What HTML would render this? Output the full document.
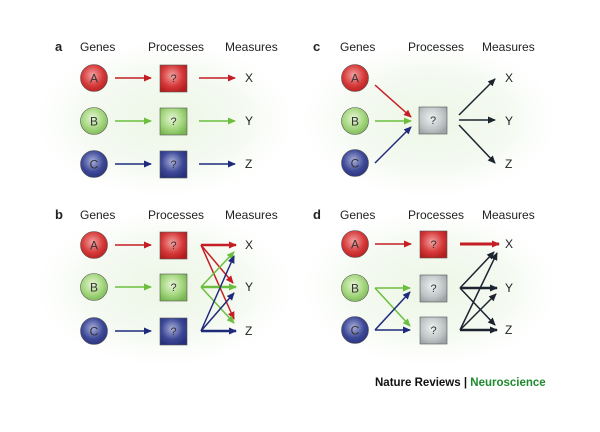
<!DOCTYPE html>
<html><head><meta charset="utf-8"><style>
html,body{margin:0;padding:0;background:#fff}
svg{display:block}
text{font-family:"Liberation Sans",Arial,sans-serif}
</style></head><body>
<svg width="600" height="432" viewBox="0 0 600 432" xmlns="http://www.w3.org/2000/svg">
<defs>
<radialGradient id="glow" cx="50%" cy="50%" r="50%">
<stop offset="0" stop-color="#edf6e6"/><stop offset="0.6" stop-color="#f5faf2"/><stop offset="1" stop-color="#fff" stop-opacity="0"/>
</radialGradient>
<radialGradient id="gr" cx="45%" cy="40%" r="65%"><stop offset="0" stop-color="#f4a3a3"/><stop offset="0.6" stop-color="#d63a3a"/><stop offset="1" stop-color="#b51d1d"/></radialGradient>
<radialGradient id="gg" cx="45%" cy="40%" r="65%"><stop offset="0" stop-color="#e6f6d6"/><stop offset="0.6" stop-color="#a4d67e"/><stop offset="1" stop-color="#79b653"/></radialGradient>
<radialGradient id="gb" cx="45%" cy="40%" r="65%"><stop offset="0" stop-color="#a9afd9"/><stop offset="0.6" stop-color="#3e4a98"/><stop offset="1" stop-color="#27307a"/></radialGradient>
<radialGradient id="gy" cx="45%" cy="40%" r="65%"><stop offset="0" stop-color="#eef0f0"/><stop offset="0.7" stop-color="#bcc2c4"/><stop offset="1" stop-color="#9ea5a8"/></radialGradient>
<marker id="mr" markerWidth="8" markerHeight="8" refX="7" refY="4" orient="auto" markerUnits="userSpaceOnUse"><path d="M0,0.5 L8,4 L0,7.5 Z" fill="#c41e24"/></marker>
<marker id="mg" markerWidth="8" markerHeight="8" refX="7" refY="4" orient="auto" markerUnits="userSpaceOnUse"><path d="M0,0.5 L8,4 L0,7.5 Z" fill="#6cbf3e"/></marker>
<marker id="mb" markerWidth="8" markerHeight="8" refX="7" refY="4" orient="auto" markerUnits="userSpaceOnUse"><path d="M0,0.5 L8,4 L0,7.5 Z" fill="#1f2a7c"/></marker>
<marker id="mk" markerWidth="8" markerHeight="8" refX="7" refY="4" orient="auto" markerUnits="userSpaceOnUse"><path d="M0,0.5 L8,4 L0,7.5 Z" fill="#1c2430"/></marker>
</defs>
<ellipse cx="165" cy="120" rx="140" ry="85" fill="url(#glow)"/>
<ellipse cx="430" cy="120" rx="140" ry="85" fill="url(#glow)"/>
<ellipse cx="165" cy="288" rx="140" ry="85" fill="url(#glow)"/>
<ellipse cx="430" cy="288" rx="140" ry="85" fill="url(#glow)"/>

<g font-size="12" fill="#222">
<text x="55" y="51" font-weight="bold" font-size="13">a</text>
<text x="80" y="51">Genes</text><text x="148" y="51">Processes</text><text x="225" y="51">Measures</text>
<text x="313" y="51" font-weight="bold" font-size="13">c</text>
<text x="340" y="51">Genes</text><text x="408" y="51">Processes</text><text x="482" y="51">Measures</text>
<text x="55" y="219" font-weight="bold" font-size="13">b</text>
<text x="80" y="219">Genes</text><text x="148" y="219">Processes</text><text x="225" y="219">Measures</text>
<text x="313" y="219" font-weight="bold" font-size="13">d</text>
<text x="340" y="219">Genes</text><text x="408" y="219">Processes</text><text x="482" y="219">Measures</text>
</g>

<!-- panel a -->
<g stroke-width="1.5" fill="none">
<line x1="115" y1="78" x2="151" y2="78" stroke="#c41e24" marker-end="url(#mr)"/>
<line x1="199" y1="78" x2="235" y2="78" stroke="#c41e24" marker-end="url(#mr)"/>
<line x1="115" y1="121" x2="151" y2="121" stroke="#6cbf3e" marker-end="url(#mg)"/>
<line x1="199" y1="121" x2="235" y2="121" stroke="#6cbf3e" marker-end="url(#mg)"/>
<line x1="115" y1="164" x2="151" y2="164" stroke="#1f2a7c" marker-end="url(#mb)"/>
<line x1="199" y1="164" x2="235" y2="164" stroke="#1f2a7c" marker-end="url(#mb)"/>
</g>
<g stroke="#555" stroke-width="0.6">
<circle cx="94" cy="78" r="13.5" fill="url(#gr)"/><circle cx="94" cy="121" r="13.5" fill="url(#gg)"/><circle cx="94" cy="164" r="13.5" fill="url(#gb)"/>
<rect x="160" y="65" width="27" height="27" fill="url(#gr)"/><rect x="160" y="108" width="27" height="27" fill="url(#gg)"/><rect x="160" y="151" width="27" height="27" fill="url(#gb)"/>
</g>

<!-- panel b -->
<g stroke-width="1.5" fill="none">
<line x1="115" y1="245" x2="151" y2="245" stroke="#c41e24" marker-end="url(#mr)"/>
<line x1="115" y1="287" x2="151" y2="287" stroke="#6cbf3e" marker-end="url(#mg)"/>
<line x1="115" y1="331" x2="151" y2="331" stroke="#1f2a7c" marker-end="url(#mb)"/>
<line x1="201" y1="245" x2="236" y2="245" stroke="#c41e24" stroke-width="2.5" marker-end="url(#mr)"/>
<line x1="201" y1="245" x2="233" y2="283" stroke="#c41e24" marker-end="url(#mr)"/>
<line x1="201" y1="245" x2="234" y2="319" stroke="#c41e24" marker-end="url(#mr)"/>
<line x1="201" y1="287" x2="234" y2="252" stroke="#6cbf3e" marker-end="url(#mg)"/>
<line x1="201" y1="287" x2="236" y2="287" stroke="#6cbf3e" stroke-width="2.5" marker-end="url(#mg)"/>
<line x1="201" y1="287" x2="234" y2="323" stroke="#6cbf3e" marker-end="url(#mg)"/>
<line x1="201" y1="331" x2="234" y2="256" stroke="#1f2a7c" marker-end="url(#mb)"/>
<line x1="201" y1="331" x2="234" y2="293" stroke="#1f2a7c" marker-end="url(#mb)"/>
<line x1="201" y1="331" x2="236" y2="331" stroke="#1f2a7c" stroke-width="2.5" marker-end="url(#mb)"/>
</g>
<g stroke="#555" stroke-width="0.6">
<circle cx="94" cy="245" r="13.5" fill="url(#gr)"/><circle cx="94" cy="287" r="13.5" fill="url(#gg)"/><circle cx="94" cy="331" r="13.5" fill="url(#gb)"/>
<rect x="160" y="232" width="27" height="27" fill="url(#gr)"/><rect x="160" y="274" width="27" height="27" fill="url(#gg)"/><rect x="160" y="318" width="27" height="27" fill="url(#gb)"/>
</g>

<!-- panel c -->
<g stroke-width="1.5" fill="none">
<line x1="375" y1="85" x2="411" y2="117" stroke="#c41e24" marker-end="url(#mr)"/>
<line x1="375" y1="121" x2="411" y2="121" stroke="#6cbf3e" marker-end="url(#mg)"/>
<line x1="375" y1="163" x2="411" y2="127" stroke="#1f2a7c" marker-end="url(#mb)"/>
<line x1="459" y1="115" x2="495" y2="79" stroke="#1c2430" marker-end="url(#mk)"/>
<line x1="459" y1="120" x2="495" y2="120" stroke="#1c2430" marker-end="url(#mk)"/>
<line x1="459" y1="125" x2="495" y2="163" stroke="#1c2430" marker-end="url(#mk)"/>
</g>
<g stroke="#555" stroke-width="0.6">
<circle cx="355" cy="78" r="13.5" fill="url(#gr)"/><circle cx="355" cy="121" r="13.5" fill="url(#gg)"/><circle cx="355" cy="163" r="13.5" fill="url(#gb)"/>
<rect x="419" y="107" width="28" height="27" fill="url(#gy)"/>
</g>

<!-- panel d -->
<g stroke-width="1.5" fill="none">
<line x1="375" y1="244" x2="411" y2="244" stroke="#c41e24" marker-end="url(#mr)"/>
<line x1="375" y1="288" x2="410" y2="288" stroke="#6cbf3e" marker-end="url(#mg)"/>
<line x1="375" y1="288" x2="410" y2="326" stroke="#6cbf3e" marker-end="url(#mg)"/>
<line x1="375" y1="330" x2="410" y2="292" stroke="#1f2a7c" marker-end="url(#mb)"/>
<line x1="375" y1="330" x2="410" y2="330" stroke="#1f2a7c" marker-end="url(#mb)"/>
<line x1="460" y1="244" x2="499" y2="244" stroke="#c41e24" stroke-width="3" marker-end="url(#mr)"/>
<line x1="460" y1="288" x2="494" y2="252" stroke="#1c2430" marker-end="url(#mk)"/>
<line x1="460" y1="288" x2="497" y2="288" stroke="#1c2430" stroke-width="2.5" marker-end="url(#mk)"/>
<line x1="460" y1="288" x2="495" y2="325" stroke="#1c2430" marker-end="url(#mk)"/>
<line x1="460" y1="330" x2="497" y2="253" stroke="#1c2430" marker-end="url(#mk)"/>
<line x1="460" y1="330" x2="496" y2="294" stroke="#1c2430" marker-end="url(#mk)"/>
<line x1="460" y1="330" x2="497" y2="330" stroke="#1c2430" stroke-width="2.5" marker-end="url(#mk)"/>
</g>
<g stroke="#555" stroke-width="0.6">
<circle cx="355" cy="244" r="13.5" fill="url(#gr)"/><circle cx="355" cy="288" r="13.5" fill="url(#gg)"/><circle cx="355" cy="330" r="13.5" fill="url(#gb)"/>
<rect x="420" y="231" width="27" height="27" fill="url(#gr)"/><rect x="420" y="275" width="27" height="27" fill="url(#gy)"/><rect x="420" y="317" width="27" height="27" fill="url(#gy)"/>
</g>

<!-- node labels -->
<g font-size="12" fill="#333" text-anchor="middle">
<text x="94" y="82.5">A</text><text x="94" y="125.5">B</text><text x="94" y="168.5">C</text>
<text x="94" y="249.5">A</text><text x="94" y="291.5">B</text><text x="94" y="335.5">C</text>
<text x="355" y="82.5">A</text><text x="355" y="125.5">B</text><text x="355" y="167.5">C</text>
<text x="355" y="248.5">A</text><text x="355" y="292.5">B</text><text x="355" y="334.5">C</text>
<g font-size="11"><text x="173.5" y="82">?</text><text x="173.5" y="125">?</text><text x="173.5" y="168">?</text>
<text x="173.5" y="249">?</text><text x="173.5" y="291">?</text><text x="173.5" y="335">?</text>
<text x="433" y="124">?</text>
<text x="433.5" y="248">?</text><text x="433.5" y="292">?</text><text x="433.5" y="334">?</text></g>
</g>
<g font-size="12" fill="#222">
<text x="245" y="82">X</text><text x="245" y="125">Y</text><text x="245" y="168">Z</text>
<text x="245" y="249">X</text><text x="245" y="291">Y</text><text x="245" y="335">Z</text>
<text x="505" y="82">X</text><text x="505" y="125">Y</text><text x="505" y="168">Z</text>
<text x="505" y="248">X</text><text x="505" y="292">Y</text><text x="505" y="334">Z</text>
</g>

<text x="375" y="386" font-size="11.5" font-weight="bold" fill="#111">Nature Reviews | <tspan fill="#1f8a2e">Neuroscience</tspan></text>
</svg>
</body></html>
